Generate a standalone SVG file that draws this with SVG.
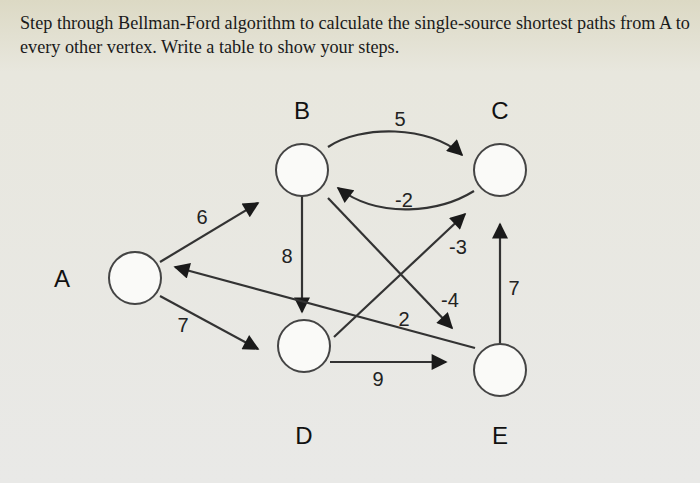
<svg xmlns="http://www.w3.org/2000/svg" width="700" height="483" viewBox="0 0 700 483">
<defs>
<linearGradient id="bg" x1="0" y1="0" x2="0" y2="1">
<stop offset="0" stop-color="#dcd9c4"/><stop offset="0.15" stop-color="#e8e7de"/><stop offset="1" stop-color="#e9e9e7"/>
</linearGradient>
<marker id="ah" viewBox="0 0 10 10" refX="9" refY="5" markerWidth="18" markerHeight="16" markerUnits="userSpaceOnUse" orient="auto">
<path d="M0,0 L10,5 L0,10 z" fill="#1a1a1a"/>
</marker>
<style>
.n{fill:#fafaf8;stroke:#444;stroke-width:2}
.e{stroke:#333;stroke-width:2.2;fill:none;marker-end:url(#ah)}
.t{font-family:"Liberation Serif",serif;font-size:18.2px;fill:#1a1a1a}
.l{font-family:"Liberation Sans",sans-serif;font-size:20px;fill:#222}
.v{font-family:"Liberation Sans",sans-serif;font-size:24px;fill:#111}
</style>
</defs>
<rect width="700" height="483" fill="url(#bg)"/>
<text class="t" x="20" y="29">Step through Bellman-Ford algorithm to calculate the single-source shortest paths from A to</text>
<text class="t" x="20" y="53">every other vertex. Write a table to show your steps.</text>
<g id="connectors">
<line class="e" x1="160" y1="262" x2="258" y2="203"/>
<line class="e" x1="160" y1="296" x2="258" y2="349"/>
<path d="M328,147 C360,125 430,125 462,155" class="e"/>
<path d="M474,191 C440,212 380,220 338,188" class="e"/>
<line class="e" x1="302" y1="195" x2="302" y2="312"/>
<line class="e" x1="328" y1="198" x2="452" y2="328"/>
<line class="e" x1="334" y1="337" x2="465" y2="214"/>
<line class="e" x1="475" y1="348" x2="175" y2="267"/>
<line class="e" x1="500" y1="344" x2="500" y2="224"/>
<line class="e" x1="330" y1="362" x2="446" y2="362"/>
</g>
<g id="A"><circle class="n" cx="135" cy="278" r="26"/><text class="v" x="62" y="287" text-anchor="middle">A</text></g>
<g id="B"><circle class="n" cx="302" cy="170" r="26"/><text class="v" x="302" y="119" text-anchor="middle">B</text></g>
<g id="C"><circle class="n" cx="500" cy="170" r="26"/><text class="v" x="500" y="119" text-anchor="middle">C</text></g>
<g id="D"><circle class="n" cx="304" cy="346" r="26"/><text class="v" x="304" y="444" text-anchor="middle">D</text></g>
<g id="E"><circle class="n" cx="500" cy="370" r="26"/><text class="v" x="500" y="444" text-anchor="middle">E</text></g>
<g id="labels">
<text class="l" x="202" y="224" text-anchor="middle">6</text>
<text class="l" x="183" y="332" text-anchor="middle">7</text>
<text class="l" x="400" y="126" text-anchor="middle">5</text>
<text class="l" x="404" y="207" text-anchor="middle">-2</text>
<text class="l" x="287" y="263" text-anchor="middle">8</text>
<text class="l" x="458" y="254" text-anchor="middle">-3</text>
<text class="l" x="450" y="307" text-anchor="middle">-4</text>
<text class="l" x="404" y="326" text-anchor="middle">2</text>
<text class="l" x="514" y="295" text-anchor="middle">7</text>
<text class="l" x="378" y="386" text-anchor="middle">9</text>
</g>
</svg>
